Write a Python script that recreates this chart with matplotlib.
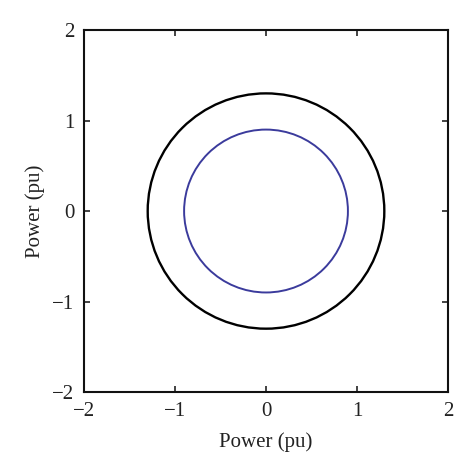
import matplotlib
matplotlib.use("Agg")
import matplotlib.pyplot as plt
from matplotlib.patches import Circle

# circle radii (pu) and colours
radii = [1.3, 0.9]
colors = ["black", "#3b3b9c"]
widths = [1.7, 1.4]

ticks = [-2, -1, 0, 1, 2]
tick_labels = ["\u22122", "\u22121", "0", "1", "2"]

plt.rcParams["font.family"] = ["Liberation Serif", "DejaVu Serif"]

fig = plt.figure(figsize=(4.74, 4.73), dpi=100)
ax = fig.add_axes([0.1772, 0.1712, 0.768, 0.7653])

for r, c, lw in zip(radii, colors, widths):
    ax.add_patch(Circle((0, 0), r, fill=False, edgecolor=c, linewidth=lw))

ax.set_xlim(-2, 2)
ax.set_ylim(-2, 2)
ax.set_xticks(ticks)
ax.set_yticks(ticks)
ax.set_xticklabels(tick_labels)
ax.set_yticklabels(tick_labels)
ax.tick_params(direction="in", top=True, right=True, length=4, width=1.2,
               labelsize=15, colors="#222222", pad=7)
for s in ax.spines.values():
    s.set_linewidth(1.5)
    s.set_color("#111111")
ax.set_xlabel("Power (pu)", fontsize=15, color="#222222", labelpad=8)
ax.set_ylabel("Power (pu)", fontsize=15, color="#222222", labelpad=5)

plt.savefig("out.png", dpi=100)
